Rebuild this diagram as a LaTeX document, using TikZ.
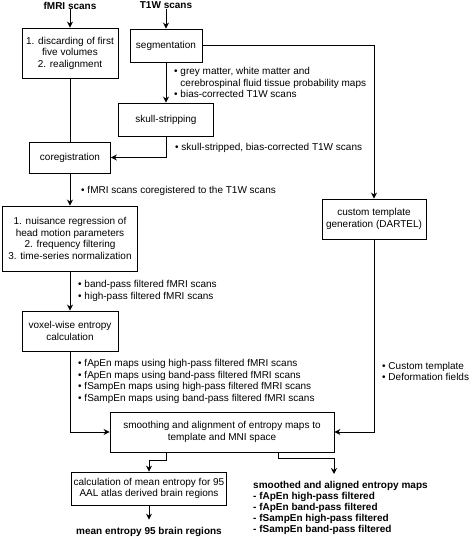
\documentclass[tikz,border=0pt]{standalone}
\usepackage{fontspec}
\setmainfont{Liberation Sans}
\usetikzlibrary{arrows.meta}
\begin{document}
\begin{tikzpicture}[x=1pt,y=-1pt,
  every node/.style={font=\fontsize{10}{11.5}\selectfont},
  box/.style={draw, line width=0.9pt, align=center, inner sep=0pt},
  conn/.style={line width=0.9pt},
  arr/.style={conn, -{Stealth[length=6pt,width=6pt,inset=2pt]}},
  lab/.style={anchor=west, align=left, inner sep=0pt},
  head/.style={font=\fontsize{10}{11}\selectfont\bfseries, inner sep=0pt}]
\useasboundingbox (0,0) rectangle (474,537);
% headers
\node[head] (fmri) at (70,5.5) {fMRI scans};
\node[head] (t1w) at (166,5.5) {T1W scans};
% boxes
\node[box, minimum width=96pt, minimum height=50pt] (box1) at (70,53) {1. discarding of first\\five volumes\\2. realignment};
\node[box, minimum width=72pt, minimum height=33pt] (seg) at (166,45.5) {segmentation};
\node[box, minimum width=95pt, minimum height=33pt] (skull) at (166,119.5) {skull-stripping};
\node[box, minimum width=81pt, minimum height=31pt] (coreg) at (70,157.5) {coregistration};
\node[box, minimum width=135pt, minimum height=65pt] (nuis) at (70,238.5) {1. nuisance regression of\\head motion parameters\\2. frequency filtering\\3. time-series normalization};
\node[box, minimum width=96pt, minimum height=40pt] (voxel) at (70,331) {voxel-wise entropy\\calculation};
\node[box, minimum width=104pt, minimum height=40pt] (dartel) at (374,219) {custom template\\generation (DARTEL)};
\node[box, minimum width=224pt, minimum height=40pt] (smooth) at (222,432) {smoothing and alignment of entropy maps to\\template and MNI space};
\node[box, minimum width=155pt, minimum height=33pt] (calc) at (149,488.5) {calculation of mean entropy for 95\\AAL atlas derived brain regions};
\node[head] (meanout) at (149,531.5) {mean entropy 95 brain regions};
\node[head, anchor=west, align=left] (outmaps) at (253,507.5) {smoothed and aligned entropy maps\\- fApEn high-pass filtered\\- fApEn band-pass filtered\\- fSampEn high-pass filtered\\- fSampEn band-pass filtered};
\coordinate (out2) at (334,474);
% bullet labels
\node[lab] (l1) at (174,82.5) {\textbullet\ grey matter, white matter and\\\hphantom{\textbullet\ }cerebrospinal fluid tissue probability maps\\\textbullet\ bias-corrected T1W scans};
\node[lab] (l2) at (175,148) {\textbullet\ skull-stripped, bias-corrected T1W scans};
\node[lab] (l3) at (81,190.5) {\textbullet\ fMRI scans coregistered to the T1W scans};
\node[lab] (l4) at (78,291) {\textbullet\ band-pass filtered fMRI scans\\\textbullet\ high-pass filtered fMRI scans};
\node[lab] (l5) at (78,381.5) {\textbullet\ fApEn maps using high-pass filtered fMRI scans\\\textbullet\ fApEn maps using band-pass filtered fMRI scans\\\textbullet\ fSampEn maps using high-pass filtered fMRI scans\\\textbullet\ fSampEn maps using band-pass filtered fMRI scans};
\node[lab] (l6) at (382,371.5) {\textbullet\ Custom template\\\textbullet\ Deformation fields};
% connectors
\draw[arr] (fmri) -- (box1);
\draw[arr] (t1w) -- (seg);
\draw[conn] (box1) -- (coreg);
\draw[arr] (seg) -- (skull);
\draw[arr] (seg.east) -| (dartel.north);
\draw[arr] (skull.south) |- (coreg.east);
\draw[arr] (coreg) -- (nuis);
\draw[arr] (nuis) -- (voxel);
\draw[arr] (voxel.south) |- (smooth.west);
\draw[arr] (dartel.south) |- (smooth.east);
\draw[arr] ([xshift=-56pt]smooth.south) -- ++(0,8) -| (calc.north);
\draw[arr] ([xshift=56pt]smooth.south) -- ++(0,6) -| (out2);
\draw[arr, shorten >=7pt] (calc) -- (meanout);
\end{tikzpicture}
\end{document}
